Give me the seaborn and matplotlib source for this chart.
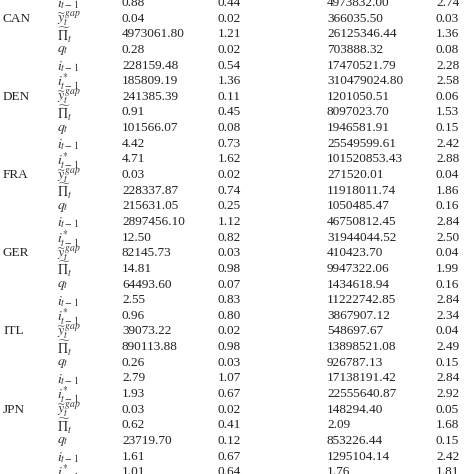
import matplotlib
matplotlib.use("Agg")
import matplotlib.pyplot as plt
import seaborn as sns

countries = ["", "CAN", "", "", "", "", "DEN", "", "", "", "", "FRA", "", "", "", "",
             "GER", "", "", "", "", "ITL", "", "", "", "", "JPN", "", "", "", ""]
sym_cycle = [r"$\widetilde{y}_t^{\,gap}$", r"$\widetilde{\Pi}_t$", r"$q_t$",
             r"$i_{t-1}$", r"$i^{*}_{t-1}$"]
symbols = [r"$i_{t-1}$"] + sym_cycle * 6
col1 = ["0.88", "0.04", "4973061.80", "0.28", "228159.48", "185809.19",
        "241385.39", "0.91", "101566.07", "4.42", "4.71",
        "0.03", "228337.87", "215631.05", "2897456.10", "12.50",
        "82145.73", "14.81", "64493.60", "2.55", "0.96",
        "39073.22", "890113.88", "0.26", "2.79", "1.93",
        "0.03", "0.62", "23719.70", "1.61", "1.01"]
col2 = ["0.44", "0.02", "1.21", "0.02", "0.54", "1.36",
        "0.11", "0.45", "0.08", "0.73", "1.62",
        "0.02", "0.74", "0.25", "1.12", "0.82",
        "0.03", "0.98", "0.07", "0.83", "0.80",
        "0.02", "0.98", "0.03", "1.07", "0.67",
        "0.02", "0.41", "0.12", "0.67", "0.64"]
col3 = ["4973832.00", "366035.50", "26125346.44", "703888.32", "17470521.79", "310479024.80",
        "1201050.51", "8097023.70", "1946581.91", "25549599.61", "101520853.43",
        "271520.01", "11918011.74", "1050485.47", "46750812.45", "31944044.52",
        "410423.70", "9947322.06", "1434618.94", "11222742.85", "3867907.12",
        "548697.67", "13898521.08", "926787.13", "17138191.42", "22555640.87",
        "148294.40", "2.09", "853226.44", "1295104.14", "1.76"]
col4 = ["2.74", "0.03", "1.36", "0.08", "2.28", "2.58",
        "0.06", "1.53", "0.15", "2.42", "2.88",
        "0.04", "1.86", "0.16", "2.84", "2.50",
        "0.04", "1.99", "0.16", "2.84", "2.34",
        "0.04", "2.49", "0.15", "2.84", "2.92",
        "0.05", "1.68", "0.15", "2.42", "1.81"]

sns.set_theme(style="white")
plt.rcParams["font.family"] = ["Liberation Serif", "DejaVu Serif"]
plt.rcParams["mathtext.fontset"] = "stix"

fig = plt.figure(figsize=(4.74, 4.74), dpi=100)
ax = fig.add_axes([0, 0, 1, 1])
ax.set_xlim(0, 474)
ax.set_ylim(474, 0)
ax.axis("off")

top, step = 3.0, 15.64
xs = [3, 57, 122, 218, 327, 436]
for k in range(len(symbols)):
    y = top + k * step
    ax.text(xs[0], y, countries[k], va="center", fontsize=9.5, color="#222")
    ax.text(xs[1], y + 1, symbols[k], va="center", fontsize=10, color="#333")
    for x, col in zip(xs[2:], [col1, col2, col3, col4]):
        ax.text(x, y, col[k], va="center", fontsize=9.5, color="#222")

fig.savefig("out.png", dpi=100)
